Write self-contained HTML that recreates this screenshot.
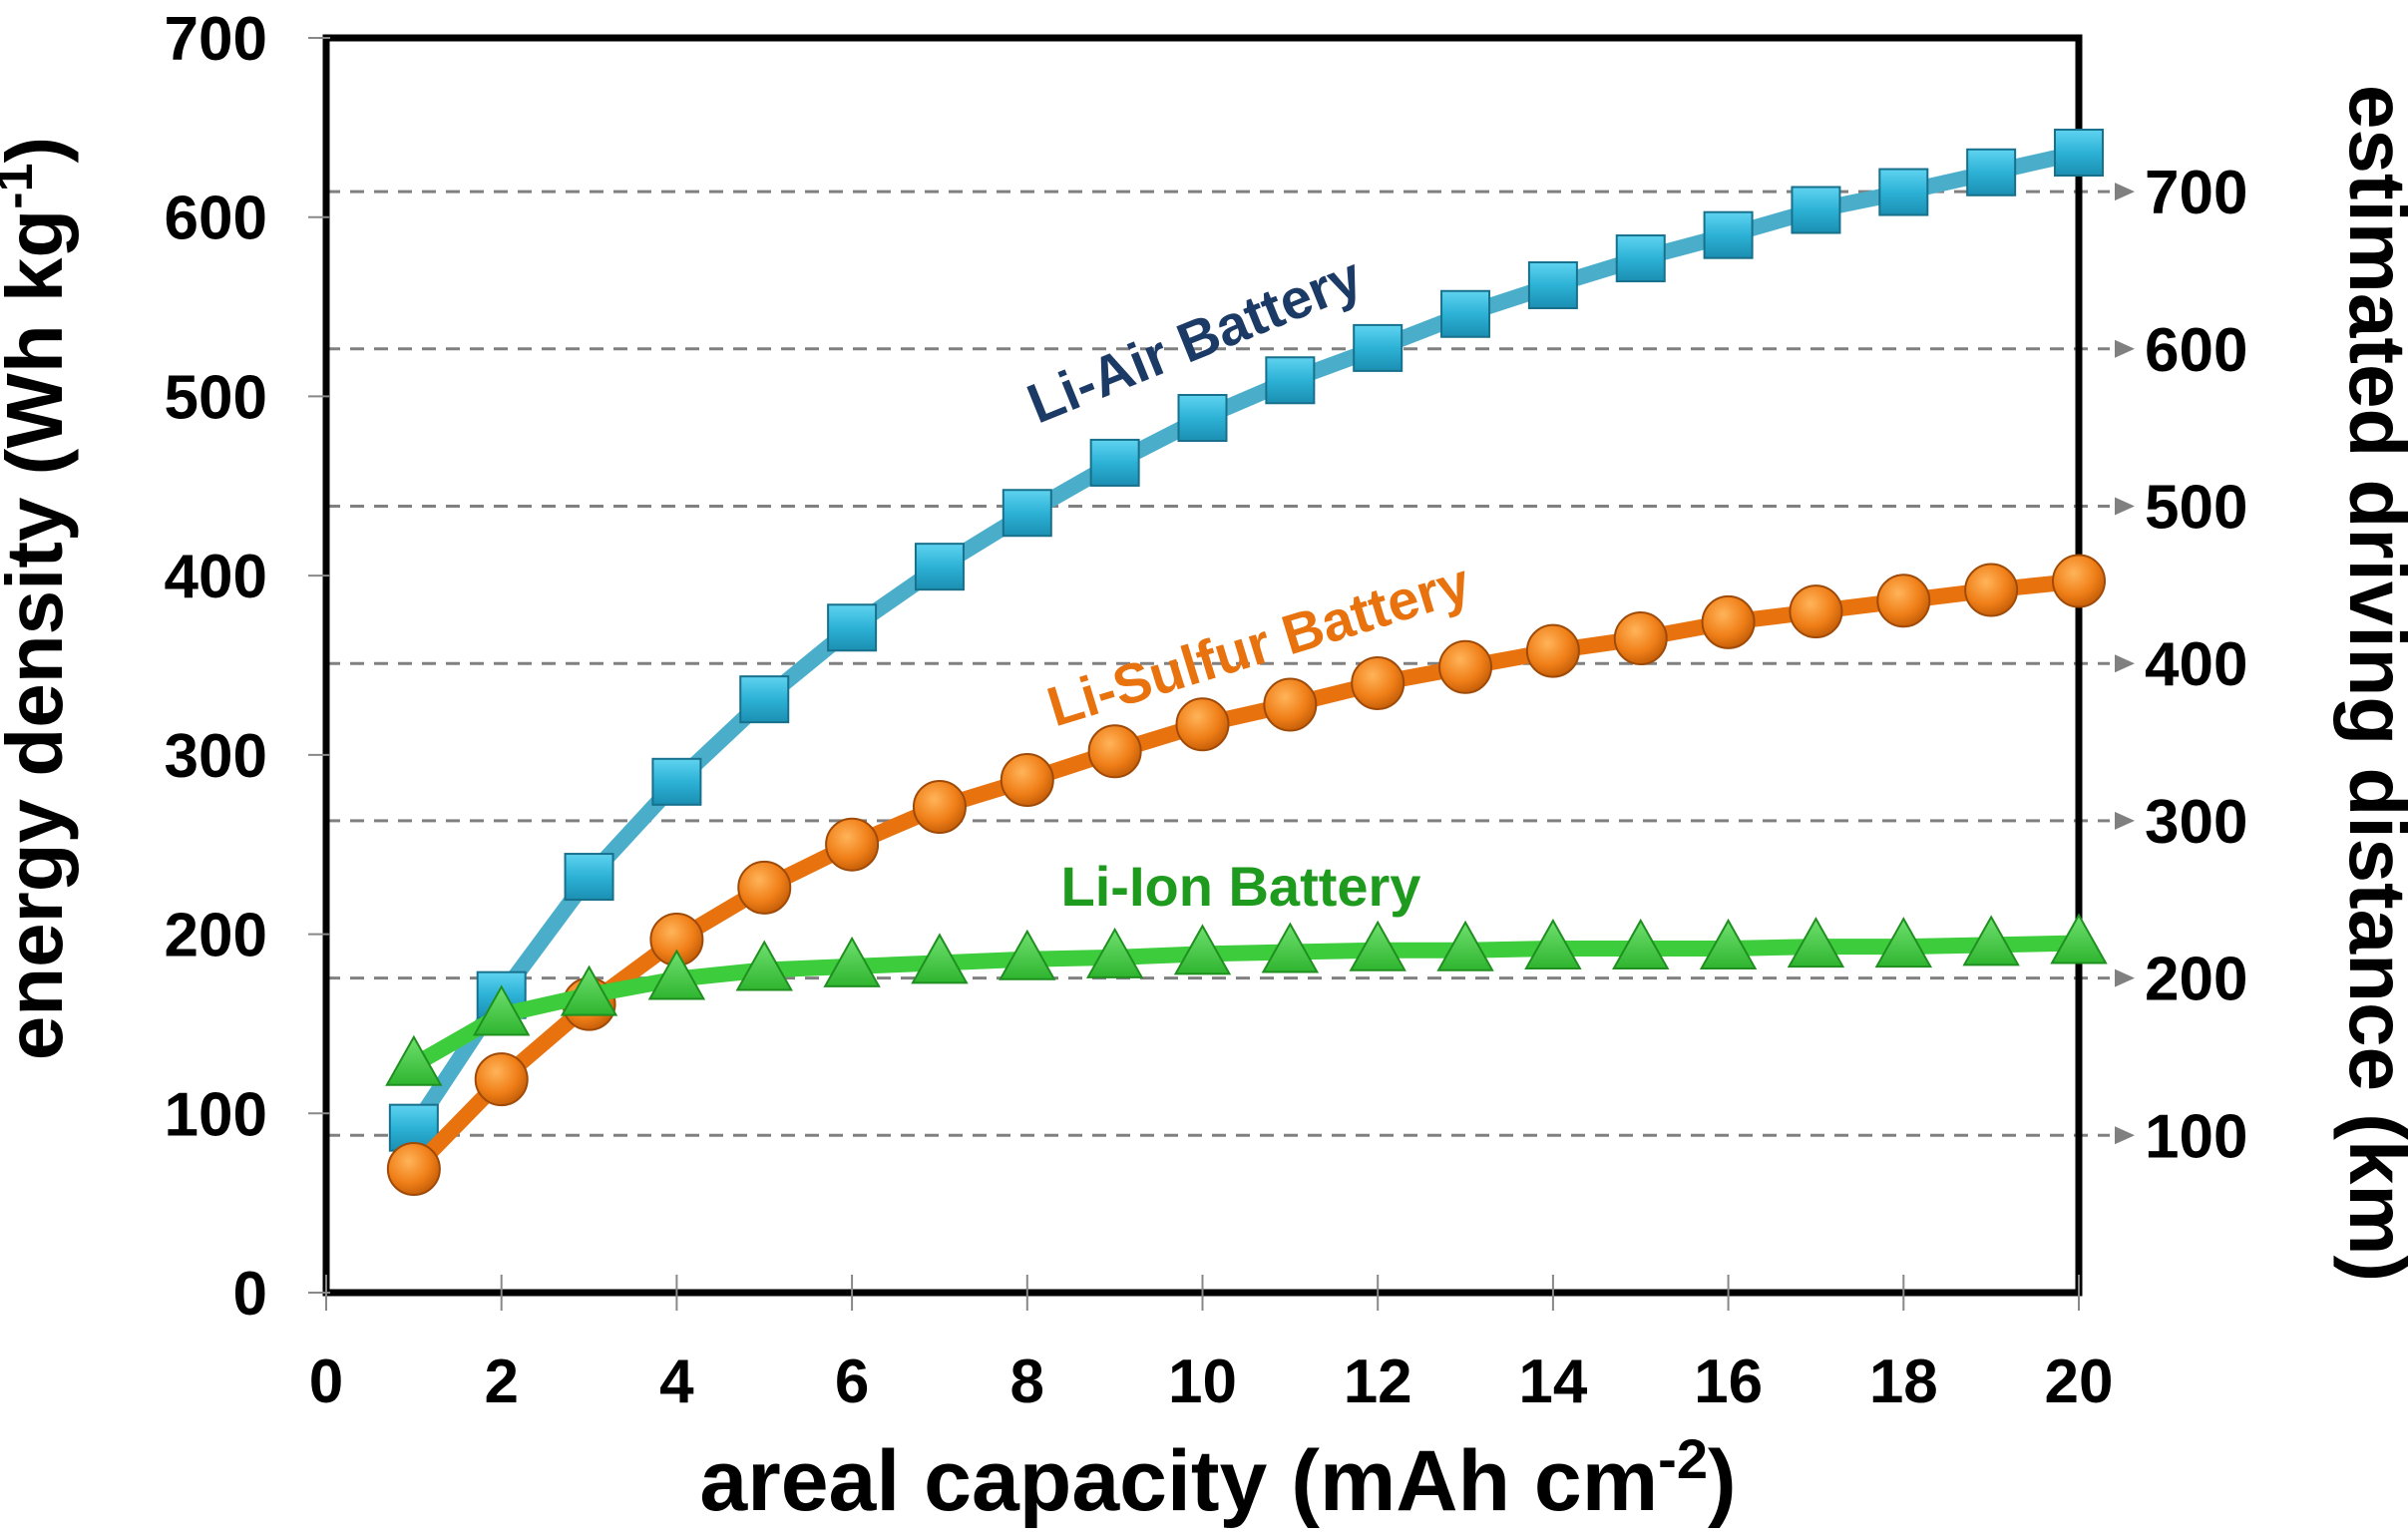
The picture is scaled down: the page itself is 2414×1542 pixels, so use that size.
<!DOCTYPE html>
<html><head><meta charset="utf-8"><style>
html,body{margin:0;padding:0;background:#fff;}
svg{display:block;font-family:"Liberation Sans",Arial,sans-serif;font-weight:bold;}
</style></head><body>
<svg id="chart" width="2414" height="1542" viewBox="0 0 2414 1542">
<defs>
<linearGradient id="gSq" x1="0" y1="0" x2="0" y2="1"><stop offset="0" stop-color="#5fd3f0"/><stop offset="0.5" stop-color="#2cb2d6"/><stop offset="1" stop-color="#1b8fb2"/></linearGradient>
<radialGradient id="gCi" cx="0.4" cy="0.35" r="0.7"><stop offset="0" stop-color="#ffb45a"/><stop offset="0.6" stop-color="#f07f18"/><stop offset="1" stop-color="#c05a06"/></radialGradient>
<linearGradient id="gTr" x1="0" y1="0" x2="0" y2="1"><stop offset="0" stop-color="#6fe06f"/><stop offset="1" stop-color="#2fb52f"/></linearGradient>
</defs>
<g id="grid"></g>
<g id="frame"></g>
<g id="series"></g>
<g id="labels"></g>
</svg>
<script>
const xValues=[1,2,3,4,5,6,7,8,9,10,11,12,13,14,15,16,17,18,19,20];
const liAir=[92,166,232,285,331,371,405,435,463,488,509,527,546,562,577,590,604,614,625,636];
const liSulfur=[69,119,161,197,226,250,271,286,302,317,328,340,349,358,365,374,380,386,392,397];
const liIon=[127,155,166,175,180,182,184,186,187,189,190,191,191,192,192,192,193,193,194,195];
const xTicks=[0,2,4,6,8,10,12,14,16,18,20];
const yTicks=[0,100,200,300,400,500,600,700];
const kmTicks=[100,200,300,400,500,600,700];
const kmToWh=0.8775;

const X0=327,X1=2084,Y0=1296,Y1=38;
const xs=v=>X0+(v/20)*(X1-X0);
const ys=v=>Y0-(v/700)*(Y0-Y1);
const NS='http://www.w3.org/2000/svg';
function mk(tag,attrs,parent){const e=document.createElementNS(NS,tag);for(const k in attrs)e.setAttribute(k,attrs[k]);parent.appendChild(e);return e;}
const grid=document.getElementById('grid'),frame=document.getElementById('frame'),series=document.getElementById('series'),labels=document.getElementById('labels');

kmTicks.forEach(k=>{
  const y=ys(k*kmToWh);
  const l=mk('line',{x1:X0,y1:y,x2:2115,y2:y,stroke:'#808080','stroke-width':3,'stroke-dasharray':'14 10'},grid);
  
  
  const a=mk('polygon',{points:`${2120},${y-9} ${2140},${y} ${2120},${y+9}`,fill:'#808080'},grid);
  
  
  const t=mk('text',{x:2150,y:y+22,'font-size':62,fill:'#000'},labels);
  t.textContent=k;
  
  
});

const fr=mk('rect',{x:X0,y:Y1,width:X1-X0,height:Y0-Y1,fill:'none',stroke:'#000','stroke-width':7},frame);



xTicks.forEach(v=>{
  const x=xs(v);
  const tk=mk('line',{x1:x,y1:Y0-18,x2:x,y2:Y0+18,stroke:'#888','stroke-width':2},frame);
  
  
  const t=mk('text',{x:x,y:1406,'font-size':62,'text-anchor':'middle',fill:'#000'},labels);
  t.textContent=v;
  
  
});
yTicks.forEach(v=>{
  const y=ys(v);
  const tk=mk('line',{x1:X0-18,y1:y,x2:X0+4,y2:y,stroke:'#888','stroke-width':2},frame);
  
  
  const t=mk('text',{x:268,y:y+22,'font-size':62,'text-anchor':'end',fill:'#000'},labels);
  t.textContent=v;
  
  
});

function line(vals,color,name){
  const d=vals.map((v,i)=>(i?'L':'M')+xs(xValues[i])+','+ys(v)).join(' ');
  const p=mk('path',{d:d,fill:'none',stroke:color,'stroke-width':16,'stroke-linejoin':'round','stroke-linecap':'round'},series);
  
  
}
line(liAir,'#4aaecb','li-air-line');
liAir.forEach((v,i)=>{
  const x=xs(xValues[i]),y=ys(v);
  const r=mk('rect',{x:x-24,y:y-23,width:48,height:46,fill:'url(#gSq)',stroke:'#17708c','stroke-width':2},series);
  
  
});
line(liSulfur,'#e8720e','li-sulfur-line');
liSulfur.forEach((v,i)=>{
  const c=mk('circle',{cx:xs(xValues[i]),cy:ys(v),r:26,fill:'url(#gCi)',stroke:'#a04a08','stroke-width':2},series);
  
  
});
line(liIon,'#3ccc3c','li-ion-line');
liIon.forEach((v,i)=>{
  const x=xs(xValues[i]),y=ys(v);
  const t=mk('polygon',{points:`${x},${y-28} ${x+27},${y+20} ${x-27},${y+20}`,fill:'url(#gTr)',stroke:'#1f8f1f','stroke-width':2},series);
  
  
});
</script>
<svg width="2414" height="1542" style="position:absolute;left:0;top:0">
<text x="62" y="600" font-size="80" text-anchor="middle" transform="rotate(-90 62 600)" font-family="Liberation Sans, Arial, sans-serif" font-weight="bold">energy density (Wh kg<tspan font-size="52" dy="-30">-1</tspan><tspan dy="30">)</tspan></text>
<text x="2356" y="685" font-size="80" text-anchor="middle" transform="rotate(90 2356 685)" font-family="Liberation Sans, Arial, sans-serif" font-weight="bold">estimated driving distance (km)</text>
<text x="1221" y="1514" font-size="86" text-anchor="middle" font-family="Liberation Sans, Arial, sans-serif" font-weight="bold">areal capacity (mAh cm<tspan font-size="56" dy="-32">-2</tspan><tspan dy="32">)</tspan></text>
<text x="1198" y="360" font-size="56" text-anchor="middle" fill="#1b3a66" transform="rotate(-22 1198 342)" font-family="Liberation Sans, Arial, sans-serif" font-weight="bold">Li-Air Battery</text>
<text x="1258" y="666" font-size="56" text-anchor="middle" fill="#e8720e" transform="rotate(-17 1258 634)" font-family="Liberation Sans, Arial, sans-serif" font-weight="bold">Li-Sulfur Battery</text>
<text x="1244" y="908" font-size="56" text-anchor="middle" fill="#1e9a1e" font-family="Liberation Sans, Arial, sans-serif" font-weight="bold">Li-Ion Battery</text>
</svg>
</body></html>
